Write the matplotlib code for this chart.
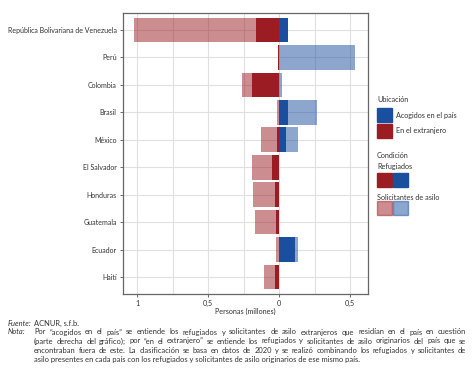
import numpy as np
import matplotlib
matplotlib.use('Agg')
import matplotlib.pyplot as plt
from matplotlib.patches import Rectangle
from matplotlib.ticker import MultipleLocator, FuncFormatter

plt.rcParams['font.family'] = ['Lato', 'DejaVu Sans']

# datos (millones de personas)
paises = ['República Bolivariana de Venezuela', 'Perú', 'Colombia', 'Brasil', 'México',
          'El Salvador', 'Honduras', 'Guatemala', 'Ecuador', 'Haití']
ext_refugiados = [0.165, 0.004, 0.19, 0.001, 0.013, 0.047, 0.032, 0.023, 0.0, 0.027]
ext_solicitantes = [0.855, 0.004, 0.07, 0.014, 0.113, 0.146, 0.15, 0.145, 0.018, 0.08]
aco_refugiados = [0.066, 0.003, 0.0, 0.063, 0.05, 0.0, 0.0, 0.0, 0.114, 0.0]
aco_solicitantes = [0.0, 0.535, 0.024, 0.204, 0.087, 0.0, 0.0, 0.0, 0.021, 0.0]

rojo = '#9b1c22'
azul = '#1a4e9e'
gris_txt = '#333333'

fig = plt.figure(figsize=(4.74, 3.77), dpi=100)
ax = fig.add_axes([123/474, 1-294/377, 245/474, 281/377])

y = np.arange(len(paises))
er = np.array(ext_refugiados)
es = np.array(ext_solicitantes)
ar = np.array(aco_refugiados)
asol = np.array(aco_solicitantes)
h = 0.9

ax.barh(y, -er, height=h, color=rojo, zorder=3)
ax.barh(y, -es, left=-er, height=h, color=rojo, alpha=0.5, zorder=3)
ax.barh(y, ar, height=h, color=azul, zorder=3)
ax.barh(y, asol, left=ar, height=h, color=azul, alpha=0.5, zorder=3)

ax.set_xlim(-1.1, 0.627)
ax.set_ylim(len(paises) - 0.38, -0.62)
ax.set_yticks(y)
ax.set_yticklabels(paises, fontsize=5.0, color=gris_txt)
ax.xaxis.set_major_locator(MultipleLocator(0.5))
ax.xaxis.set_minor_locator(MultipleLocator(0.25))
ax.xaxis.set_major_formatter(FuncFormatter(lambda v, p: ('%g' % abs(v)).replace('.', ',')))
ax.tick_params(axis='x', which='major', labelsize=5.2, labelcolor=gris_txt, length=2.5,
               width=0.6, color='#555555', pad=1.5)
ax.tick_params(axis='x', which='minor', length=0)
ax.tick_params(axis='y', length=2.5, width=0.6, color='#555555', pad=2)
ax.grid(True, which='both', axis='x', color='#e0e0e0', linewidth=0.8, zorder=0)
ax.grid(True, axis='y', color='#e0e0e0', linewidth=0.8, zorder=0)
ax.set_axisbelow(True)
for s in ax.spines.values():
    s.set_color('#666666')
    s.set_linewidth(0.9)
ax.set_xlabel('Personas (millones)', fontsize=5.2, color=gris_txt, labelpad=1)

# leyenda manual
def caja(x, ytop, color, alpha=1.0):
    fig.patches.append(Rectangle((x/474, 1-(ytop+14)/377), 15/474, 14/377,
                                 transform=fig.transFigure, color=color, alpha=alpha))

fs_leg = 5.2
fig.text(377/474, 1-100/377, 'Ubicación', fontsize=fs_leg, color=gris_txt, va='center')
caja(377, 108, azul)
fig.text(396/474, 1-115/377, 'Acogidos en el país', fontsize=fs_leg, color=gris_txt, va='center')
caja(377, 124, rojo)
fig.text(396/474, 1-131/377, 'En el extranjero', fontsize=fs_leg, color=gris_txt, va='center')
fig.text(377/474, 1-155/377, 'Condición', fontsize=fs_leg, color=gris_txt, va='center')
fig.text(377/474, 1-167/377, 'Refugiados', fontsize=fs_leg, color=gris_txt, va='center')
caja(377, 173, rojo)
caja(393, 173, azul)
fig.text(377/474, 1-197/377, 'Solicitantes de asilo', fontsize=fs_leg, color=gris_txt, va='center')
caja(377, 201, rojo, 0.5)
caja(393, 201, azul, 0.5)

# notas al pie (linea base)
fs_n = 5.4
fig.text(8/474, 1-325.5/377, 'Fuente:', fontsize=fs_n, style='italic', color=gris_txt, va='baseline')
fig.text(34/474, 1-325.5/377, 'ACNUR, s.f.b.', fontsize=fs_n, color=gris_txt, va='baseline')
fig.text(8/474, 1-334.5/377, 'Nota:', fontsize=fs_n, style='italic', color=gris_txt, va='baseline')

lineas = [
    'Por “acogidos en el país” se entiende los refugiados y solicitantes de asilo extranjeros que residían en el país en cuestión',
    '(parte derecha del gráfico); por “en el extranjero” se entiende los refugiados y solicitantes de asilo originarios del país que se',
    'encontraban fuera de este. La clasificación se basa en datos de 2020 y se realizó combinando los refugiados y solicitantes de',
    'asilo presentes en cada país con los refugiados y solicitantes de asilo originarios de ese mismo país.',
]
ys_lineas = [334.5, 343.5, 353, 362]

renderer = fig.canvas.get_renderer()
x0, x1 = 34, 466
for i, (linea, yl) in enumerate(zip(lineas, ys_lineas)):
    if i == len(lineas) - 1:
        fig.text(x0/474, 1-yl/377, linea, fontsize=fs_n, color=gris_txt, va='baseline')
        continue
    palabras = linea.split(' ')
    anchos = []
    for p in palabras:
        t = fig.text(0, 0, p, fontsize=fs_n)
        anchos.append(t.get_window_extent(renderer).width)
        t.remove()
    hueco = (x1 - x0 - sum(anchos)) / (len(palabras) - 1)
    xp = x0
    for p, w in zip(palabras, anchos):
        fig.text(xp/474, 1-yl/377, p, fontsize=fs_n, color=gris_txt, va='baseline')
        xp += w + hueco

fig.savefig('out.png', dpi=100)
